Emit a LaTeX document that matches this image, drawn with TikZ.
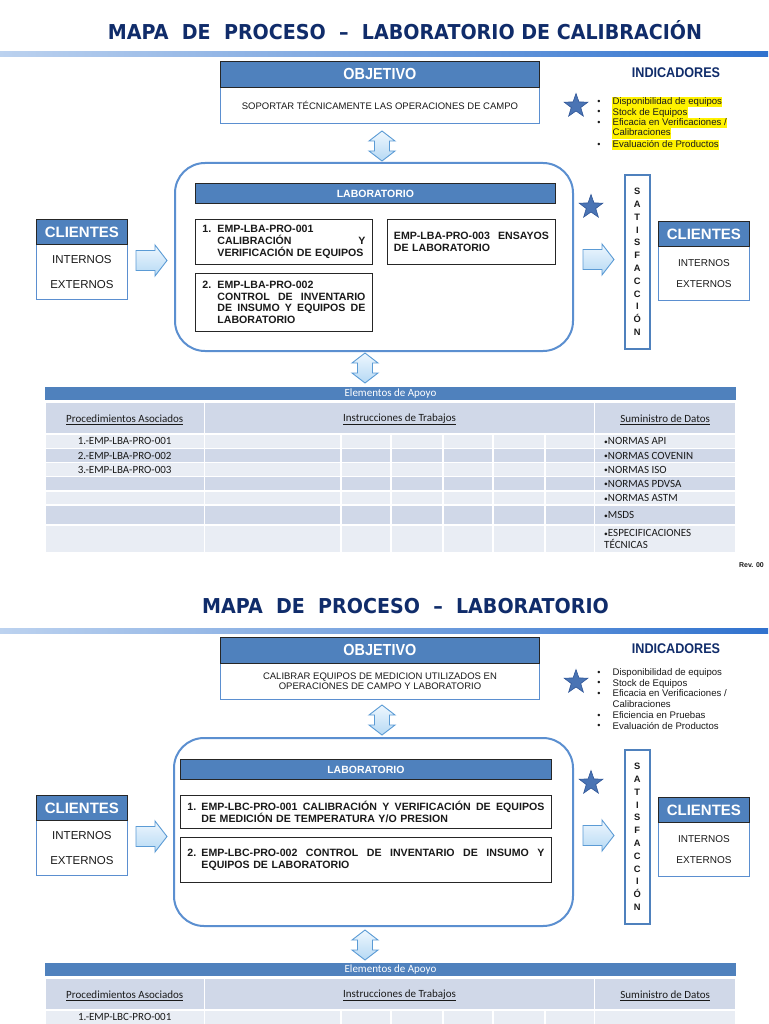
\documentclass[tikz,border=0pt]{standalone}
\usepackage{fontspec}
\setmainfont{Liberation Sans}
\newfontfamily\titlefont[FakeStretch=0.93]{DejaVu Sans}
\newfontfamily\calfont{Carlito}
\newfontfamily\narrowfont[FakeStretch=0.9]{Liberation Sans}
\usetikzlibrary{shapes.geometric}
\newcommand\jline[2]{\makebox[#1][s]{\spaceskip=0.278em plus 1fil\relax #2}}
\newcommand\tbul{\raisebox{0.5pt}{\fontsize{7.5}{8}\selectfont•}}
\definecolor{navy}{HTML}{102C6A}
\definecolor{hblue}{HTML}{4F81BD}
\definecolor{lblue}{HTML}{5B8FD0}
\definecolor{rowA}{HTML}{E9EDF4}
\definecolor{rowB}{HTML}{D0D8E8}
\definecolor{arrline}{HTML}{5B9BD5}
\definecolor{arrlight}{HTML}{EEF7FE}
\definecolor{arrdark}{HTML}{B6D9F4}
\definecolor{starfill}{HTML}{4A74B4}
\definecolor{stardraw}{HTML}{2F5597}
\definecolor{txt}{HTML}{1A1A1A}
\definecolor{bandL}{HTML}{BCD2EF}
\definecolor{bandM}{HTML}{8FB4E6}
\definecolor{bandR}{HTML}{3072CE}
\begin{document}
\begin{tikzpicture}[x=1pt,y=-1pt,
  titlestyle/.style={inner sep=0pt, text=navy, font=\titlefont\bfseries\fontsize{20.5}{24}\selectfont},
  hdr/.style={draw=black!85, line width=0.8pt, fill=hblue, text=white, inner sep=0pt, anchor=north west},
  objfont/.style={font=\narrowfont\bfseries\fontsize{16}{18}\selectfont},
  bodyb/.style={draw=lblue, line width=0.9pt, fill=white, text=txt, inner sep=0pt, anchor=north west},
  labbox/.style={draw=lblue, line width=2pt, rounded corners=30pt, inner sep=0pt, anchor=north west},
  procbox/.style={draw=black!85, line width=0.9pt, fill=white, text=txt, anchor=north west, inner ysep=0pt, inner xsep=7pt, align=left, font=\bfseries\fontsize{10.6}{11.7}\selectfont},
  satbox/.style={draw=hblue, line width=1.6pt, fill=white, text=txt, anchor=north west, inner sep=0pt, align=center, font=\bfseries\fontsize{9.3}{12.8}\selectfont},
  indtitle/.style={inner sep=0pt, text=navy, font=\narrowfont\bfseries\fontsize{14}{16}\selectfont},
  indtxt/.style={anchor=west, inner xsep=0.4pt, inner ysep=0.6pt, text height=7.2pt, text depth=2.2pt, text=txt, font=\fontsize{9.6}{11}\selectfont},
  hl/.style={fill=yellow},
  bul/.style={inner sep=0pt, text=txt, font=\fontsize{9}{10}\selectfont},
  starst/.style={star, star points=5, star point ratio=2.5, minimum size=25pt, inner sep=0pt, fill=starfill, draw=stardraw, line width=0.6pt},
  blockarr/.style={draw=arrline, line width=0.9pt, top color=arrlight, bottom color=arrdark},
  dbl/.pic={\path[blockarr] (0,-15) -- (13,-5) -- (7.5,-5) -- (7.5,5) -- (13,5) -- (0,15) -- (-13,5) -- (-7.5,5) -- (-7.5,-5) -- (-13,-5) -- cycle;},
  rarr/.pic={\path[blockarr] (0,-10) -- (19,-10) -- (19,-15.5) -- (31,0) -- (19,15.5) -- (19,10) -- (0,10) -- cycle;},
  cell/.style={draw=white, line width=1.2pt},
  tbar/.style={fill=hblue},
  ttxt/.style={inner sep=0pt, text=txt, font=\calfont\fontsize{11}{11.5}\selectfont},
  tbartxt/.style={inner sep=0pt, text=white, font=\calfont\fontsize{11}{11.5}\selectfont}
]
\useasboundingbox (0,0) rectangle (768,1024);
\clip (0,0) rectangle (768,1024);
\fill[white] (0,0) rectangle (768,1024);

% ================= TOP HALF =================
\node[titlestyle] (t1) at (405,30) {MAPA\ \ DE\ \ PROCESO\ \ –\ \ LABORATORIO DE CALIBRACIÓN};
\shade[left color=bandL, middle color=bandM, right color=bandR] (0,52) rectangle (768,57);

\node[bodyb, minimum width=319pt, minimum height=36pt, font=\fontsize{9.5}{11}\selectfont] (ob1b) at (220,87) {SOPORTAR TÉCNICAMENTE LAS OPERACIONES DE CAMPO};
\node[hdr, objfont, minimum width=319pt, minimum height=26pt] (ob1h) at (220,61) {OBJETIVO};

\node[indtitle] (ind1) at (676,73) {INDICADORES};
\node[starst] (s1) at (576,106) {};
\node[bul] (b1a) at (599,102) {•};
\node[bul] (b1b) at (599,112.7) {•};
\node[bul] (b1c) at (599,123) {•};
\node[bul] (b1e) at (599,145) {•};
\node[indtxt, hl] (i1a) at (612,102) {Disponibilidad de equipos};
\node[indtxt, hl] (i1b) at (612,112.7) {Stock de Equipos};
\node[indtxt, hl] (i1c) at (612,123) {Eficacia en Verificaciones /};
\node[indtxt, hl] (i1d) at (612,133.5) {Calibraciones};
\node[indtxt, hl] (i1e) at (612,145) {Evaluación de Productos};

\pic at (382,146) {dbl};

\node[labbox, minimum width=398pt, minimum height=188pt] (lab1) at (174,162) {};
\node[hdr, minimum width=360pt, minimum height=20pt, font=\bfseries\fontsize{10.5}{12}\selectfont] (lab1h) at (195,183) {LABORATORIO};
\node[procbox, minimum width=177pt, minimum height=45pt, text width=163pt] (p1a) at (195,219)
  {\makebox[15pt][l]{1.}EMP-LBA-PRO-001\\
   \hspace*{15pt}\jline{148pt}{CALIBRACIÓN Y}\\
   \hspace*{15pt}VERIFICACIÓN DE EQUIPOS};
\node[procbox, minimum width=168pt, minimum height=45pt, text width=155pt, inner xsep=6pt] (p1c) at (387,219)
  {\jline{155pt}{EMP-LBA-PRO-003 ENSAYOS}\\DE LABORATORIO};
\node[procbox, minimum width=177pt, minimum height=58pt, text width=163pt] (p1b) at (195,273)
  {\makebox[15pt][l]{2.}EMP-LBA-PRO-002\\
   \hspace*{15pt}\jline{148pt}{CONTROL DE INVENTARIO}\\
   \hspace*{15pt}\jline{148pt}{DE INSUMO Y EQUIPOS DE}\\
   \hspace*{15pt}LABORATORIO};

\node[bodyb, minimum width=91pt, minimum height=55pt, align=center, font=\fontsize{11.5}{25.5}\selectfont] (cl1b) at (36,244) {INTERNOS\\EXTERNOS};
\node[hdr, minimum width=91pt, minimum height=25pt, font=\bfseries\fontsize{15}{18}\selectfont] (cl1h) at (36,219) {CLIENTES};
\pic at (136,260.5) {rarr};
\pic at (583,259.5) {rarr};
\node[starst] (s2) at (591,207) {};
\node[satbox, minimum width=25pt, minimum height=174pt] (sat1) at (624,174) {S\\A\\T\\I\\S\\F\\A\\C\\C\\I\\Ó\\N};
\node[bodyb, minimum width=91pt, minimum height=54pt, align=center, font=\fontsize{10}{21}\selectfont] (cr1b) at (658,246) {INTERNOS\\EXTERNOS};
\node[hdr, minimum width=91pt, minimum height=25pt, font=\bfseries\fontsize{15}{18}\selectfont] (cr1h) at (658,221) {CLIENTES};

\pic at (365,368) {dbl};

% table top
\fill[tbar] (45,387) rectangle (736,400);
\node[tbartxt] (ea1) at (390.5,393.5) {Elementos de Apoyo};
\path[cell, fill=rowB] (45,402.5) rectangle (204.5,434);
\path[cell, fill=rowB] (204.5,402.5) rectangle (594.5,434);
\path[cell, fill=rowB] (594.5,402.5) rectangle (736,434);
\foreach \ya/\yb/\cc in {434/448.3/rowA, 448.3/462.7/rowB, 462.7/476.7/rowA, 476.7/491/rowB, 491/505/rowA, 505/525/rowB, 525/552.7/rowA}{
  \foreach \xa/\xb in {45/204.5, 204.5/341, 341/391, 391/443, 443/493, 493/545, 545/594.5, 594.5/736}{
    \path[cell, fill=\cc] (\xa,\ya) rectangle (\xb,\yb);
  }
}
\node[ttxt] (h1a) at (124.7,419.5) {\underline{Procedimientos Asociados}};
\node[ttxt] (h1b) at (399.5,419.5) {\underline{Instrucciones de Trabajos}};
\node[ttxt] (h1c) at (665.2,419.5) {\underline{Suministro de Datos}};
\node[ttxt] (r1a) at (124.7,441.2) {1.-EMP-LBA-PRO-001};
\node[ttxt] (r1b) at (124.7,455.5) {2.-EMP-LBA-PRO-002};
\node[ttxt] (r1c) at (124.7,469.7) {3.-EMP-LBA-PRO-003};
\node[ttxt, anchor=west] (n1a) at (604,441.2) {\tbul NORMAS API};
\node[ttxt, anchor=west] (n1b) at (604,455.5) {\tbul NORMAS COVENIN};
\node[ttxt, anchor=west] (n1c) at (604,469.7) {\tbul NORMAS ISO};
\node[ttxt, anchor=west] (n1d) at (604,483.8) {\tbul NORMAS PDVSA};
\node[ttxt, anchor=west] (n1e) at (604,498) {\tbul NORMAS ASTM};
\node[ttxt, anchor=west] (n1f) at (604,515) {\tbul MSDS};
\node[ttxt, anchor=west, align=left] (n1g) at (604,538.8) {\tbul ESPECIFICACIONES\\TÉCNICAS};
\node[inner sep=0pt, anchor=east, text=txt, font=\bfseries\fontsize{7}{8}\selectfont] (rev) at (764,565) {Rev. 00};

% ================= BOTTOM HALF =================
\node[titlestyle] (t2) at (405.5,606) {MAPA\ \ DE\ \ PROCESO\ \ –\ \ LABORATORIO};
\shade[left color=bandL, middle color=bandM, right color=bandR] (0,628) rectangle (768,633);

\node[bodyb, minimum width=319pt, minimum height=36pt, align=center, font=\fontsize{9.5}{10.5}\selectfont] (ob2b) at (220,663) {CALIBRAR EQUIPOS DE MEDICION UTILIZADOS EN\\OPERACIONES DE CAMPO Y LABORATORIO};
\node[hdr, objfont, minimum width=319pt, minimum height=26pt] (ob2h) at (220,637) {OBJETIVO};

\node[indtitle] (ind2) at (676,649) {INDICADORES};
\node[starst] (s3) at (576,682) {};
\node[bul] (b2a) at (599,673) {•};
\node[bul] (b2b) at (599,683.5) {•};
\node[bul] (b2c) at (599,694) {•};
\node[bul] (b2e) at (599,716) {•};
\node[bul] (b2f) at (599,726.5) {•};
\node[indtxt] (i2a) at (612,673) {Disponibilidad de equipos};
\node[indtxt] (i2b) at (612,683.5) {Stock de Equipos};
\node[indtxt] (i2c) at (612,694) {Eficacia en Verificaciones /};
\node[indtxt] (i2d) at (612,705) {Calibraciones};
\node[indtxt] (i2e) at (612,716) {Eficiencia en Pruebas};
\node[indtxt] (i2f) at (612,726.5) {Evaluación de Productos};

\pic at (382,720) {dbl};

\node[labbox, minimum width=399pt, minimum height=188pt] (lab2) at (173,737) {};
\node[hdr, minimum width=371pt, minimum height=20pt, font=\bfseries\fontsize{10.5}{12}\selectfont] (lab2h) at (180,759) {LABORATORIO};
\node[procbox, minimum width=371pt, minimum height=33pt, text width=357pt] (p2a) at (180,795)
  {\makebox[14pt][l]{1.}\jline{343pt}{EMP-LBC-PRO-001 CALIBRACIÓN Y VERIFICACIÓN DE EQUIPOS}\\
   \hspace*{14pt}DE MEDICIÓN DE TEMPERATURA Y/O PRESION};
\node[procbox, minimum width=371pt, minimum height=45pt, text width=357pt] (p2b) at (180,837)
  {\makebox[14pt][l]{2.}\jline{343pt}{EMP-LBC-PRO-002 CONTROL DE INVENTARIO DE INSUMO Y}\\
   \hspace*{14pt}EQUIPOS DE LABORATORIO};

\node[bodyb, minimum width=91pt, minimum height=55pt, align=center, font=\fontsize{11.5}{25.5}\selectfont] (cl2b) at (36,820) {INTERNOS\\EXTERNOS};
\node[hdr, minimum width=91pt, minimum height=25pt, font=\bfseries\fontsize{15}{18}\selectfont] (cl2h) at (36,795) {CLIENTES};
\pic at (136,836.5) {rarr};
\pic at (583,835.5) {rarr};
\node[starst] (s4) at (591,783) {};
\node[satbox, minimum width=25pt, minimum height=174pt] (sat2) at (624,749) {S\\A\\T\\I\\S\\F\\A\\C\\C\\I\\Ó\\N};
\node[bodyb, minimum width=91pt, minimum height=54pt, align=center, font=\fontsize{10}{21}\selectfont] (cr2b) at (658,822) {INTERNOS\\EXTERNOS};
\node[hdr, minimum width=91pt, minimum height=25pt, font=\bfseries\fontsize{15}{18}\selectfont] (cr2h) at (658,797) {CLIENTES};

\pic at (365,945) {dbl};

% table bottom
\fill[tbar] (45,963) rectangle (736,976);
\node[tbartxt] (ea2) at (390.5,969.5) {Elementos de Apoyo};
\path[cell, fill=rowB] (45,978.5) rectangle (204.5,1010);
\path[cell, fill=rowB] (204.5,978.5) rectangle (594.5,1010);
\path[cell, fill=rowB] (594.5,978.5) rectangle (736,1010);
\foreach \xa/\xb in {45/204.5, 204.5/341, 341/391, 391/443, 443/493, 493/545, 545/594.5, 594.5/736}{
  \path[cell, fill=rowA] (\xa,1010) rectangle (\xb,1026);
}
\node[ttxt] (h2a) at (124.7,995.5) {\underline{Procedimientos Asociados}};
\node[ttxt] (h2b) at (399.5,995.5) {\underline{Instrucciones de Trabajos}};
\node[ttxt] (h2c) at (665.2,995.5) {\underline{Suministro de Datos}};
\node[ttxt] (r2a) at (124.7,1017.2) {1.-EMP-LBC-PRO-001};
\end{tikzpicture}
\end{document}
